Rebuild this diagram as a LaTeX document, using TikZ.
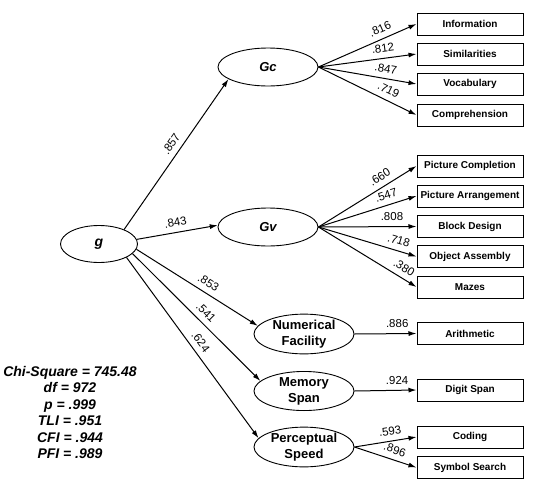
\documentclass[tikz,border=0pt]{standalone}
\usepackage{fontspec}
\setmainfont{Liberation Sans}
\usetikzlibrary{positioning,arrows.meta,shapes}

\begin{document}
\begin{tikzpicture}[x=1pt,y=-1pt,
    latent/.style={draw,ellipse,line width=0.9pt,minimum width=100pt,minimum height=38pt,
        inner sep=0pt,align=center,font=\fontsize{13}{16}\selectfont\bfseries},
    test/.style={draw,rectangle,line width=1pt,minimum width=106pt,minimum height=22pt,
        inner sep=0pt,font=\fontsize{10}{12}\selectfont\bfseries},
    arr/.style={line width=1pt,-{Latex[length=8pt,width=5pt]}},
    wt/.style={font=\fontsize{11.5}{12}\selectfont,sloped,above=4pt,inner sep=1.5pt}]
    \useasboundingbox (0,0) rectangle (536,480);

    % Latent factors
    \node[latent,minimum width=77pt,minimum height=37pt,font=\fontsize{14}{16}\selectfont\bfseries\itshape] (g) at (99,244) {g};
    \node[latent,font=\fontsize{13}{16}\selectfont\bfseries\itshape] (gc) at (268,67) {Gc};
    \node[latent,font=\fontsize{13}{16}\selectfont\bfseries\itshape] (gv) at (268,227) {Gv};
    \node[latent] (nf) at (304,334) {Numerical\\Facility};
    \node[latent] (ms) at (304,391) {Memory\\Span};
    \node[latent] (ps) at (304,447) {Perceptual\\Speed};

    % Subtests of Gc
    \node[test] (info) at (470,24) {Information};
    \node[test] (simi) at (470,54) {Similarities};
    \node[test] (voca) at (470,84) {Vocabulary};
    \node[test] (comp) at (470,115) {Comprehension};

    % Subtests of Gv
    \node[test] (pcom) at (470,166) {Picture Completion};
    \node[test] (parr) at (470,196) {Picture Arrangement};
    \node[test] (bdes) at (470,226.5) {Block Design};
    \node[test] (oass) at (470,256.5) {Object Assembly};
    \node[test] (maze) at (470,287) {Mazes};

    % Single subtest factors
    \node[test] (arit) at (470,333.5) {Arithmetic};
    \node[test] (dspn) at (470,390) {Digit Span};
    \node[test] (codi) at (470,437) {Coding};
    \node[test] (ssea) at (470,467.5) {Symbol Search};

    % g loadings
    \draw[arr] (g.30) -- (gc.197) node[wt,pos=0.53] {.857};
    \draw[arr] (g.7) -- (gv.178) node[wt,pos=0.5] {.843};
    \draw[arr] (g.-8) -- (nf.170) node[wt,pos=0.55] {.853};
    \draw[arr] (g.-16) -- (ms.167) node[wt,pos=0.52] {.541};
    \draw[arr] (g.-26) -- (ps.169) node[wt,pos=0.5] {.624};

    % Gc loadings
    \draw[arr] (gc.east) -- (info.west) node[wt,pos=0.67] {.816};
    \draw[arr] (gc.east) -- (simi.west) node[wt,pos=0.67] {.812};
    \draw[arr] (gc.east) -- (voca.west) node[wt,pos=0.67] {.847};
    \draw[arr] (gc.east) -- (comp.west) node[wt,pos=0.67] {.719};

    % Gv loadings
    \draw[arr] (gv.east) -- (pcom.west) node[wt,pos=0.68] {.660};
    \draw[arr] (gv.east) -- (parr.west) node[wt,pos=0.72] {.547};
    \draw[arr] (gv.east) -- (bdes.west) node[wt,pos=0.75] {.808};
    \draw[arr] (gv.east) -- (oass.west) node[wt,pos=0.79] {.718};
    \draw[arr] (gv.east) -- (maze.west) node[wt,pos=0.82] {.380};

    % Narrow factor loadings
    \draw[arr] (nf.east) -- (arit.west) node[wt,pos=0.69] {.886};
    \draw[arr] (ms.east) -- (dspn.west) node[wt,pos=0.69] {.924};
    \draw[arr] (ps.east) -- (codi.west) node[wt,pos=0.6] {.593};
    \draw[arr] (ps.east) -- (ssea.west) node[wt,pos=0.6] {.896};

    % Fit statistics
    \node[font=\fontsize{14}{16.5}\selectfont\bfseries\itshape,align=center] (fit) at (70,412.5)
        {Chi-Square = 745.48\\df = 972\\p = .999\\TLI = .951\\CFI = .944\\PFI = .989};
\end{tikzpicture}
\end{document}
